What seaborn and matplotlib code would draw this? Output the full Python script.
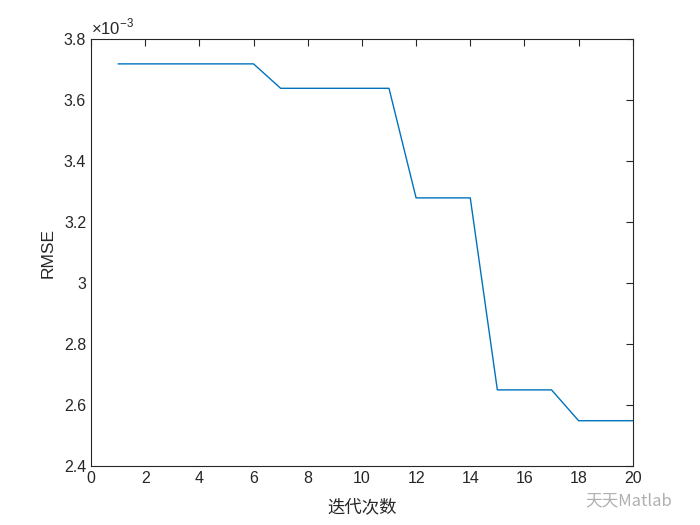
import numpy as np
import pandas as pd
import matplotlib
matplotlib.use("Agg")
import matplotlib.pyplot as plt
import matplotlib.ticker as mticker
import seaborn as sns

# iteration count and RMSE values
iters = list(range(1, 21))
rmse = [3.718e-3] * 6 + [3.638e-3] * 5 + [3.279e-3] * 3 + [2.650e-3] * 3 + [2.549e-3] * 3

df = pd.DataFrame({"iter": iters, "rmse": rmse})

sns.set_style("white")
plt.rcParams['font.family'] = ['Liberation Sans', 'Noto Sans CJK SC', 'DejaVu Sans']
plt.rcParams['mathtext.fontset'] = 'custom'
plt.rcParams['mathtext.rm'] = 'Liberation Sans'

fig = plt.figure(figsize=(7, 5.25), dpi=100)
ax = fig.add_axes([0.13, 0.112, 0.774, 0.814])

sns.lineplot(data=df, x="iter", y="rmse", ax=ax, color="#0072BD", linewidth=1.0)

ax.set_xlim(0, 20)
ax.set_ylim(2.4e-3, 3.8e-3)
ax.set_xticks(np.arange(0, 21, 2))
ax.set_yticks(np.arange(2.4e-3, 3.81e-3, 0.2e-3))

# MATLAB-like tick labels: values in units of 1e-3, shown without trailing zeros
ax.yaxis.set_major_formatter(mticker.FuncFormatter(lambda v, p: f"{v * 1e3:g}"))
ax.text(0.0, 1.003, r"$\times10^{-3}$", transform=ax.transAxes, fontsize=12,
        color="#262626", ha="left", va="bottom")

for s in ax.spines.values():
    s.set_color("#262626")
    s.set_linewidth(0.8)

ax.tick_params(direction="in", length=5, width=0.8, colors="#262626",
               labelsize=11.5, top=True, right=True, labelcolor="#262626")

ax.set_xlabel("迭代次数", fontsize=12.5, family=['Noto Sans CJK SC', 'DejaVu Sans'],
              color="#262626", labelpad=9)
ax.set_ylabel("RMSE", fontsize=12.5, color="#262626", labelpad=6)
ax.grid(False)

fig.text(0.836, 0.045, "天天Matlab", fontsize=12, color="#b0b0b0",
         family=['Noto Sans CJK SC', 'DejaVu Sans'], ha="left", va="center")

fig.savefig("out.png", dpi=100)
